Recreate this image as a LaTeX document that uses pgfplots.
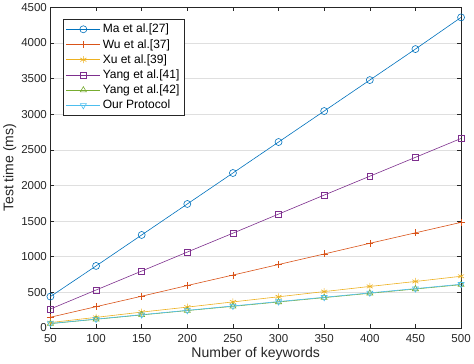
\documentclass[border=0pt]{standalone}
\usepackage{pgfplots}
\pgfplotsset{compat=1.18}
\usepackage{fontspec}
\setmainfont{Liberation Sans}
\definecolor{mblue}{rgb}{0,0.447,0.741}
\definecolor{morange}{rgb}{0.85,0.325,0.098}
\definecolor{myellow}{rgb}{0.929,0.694,0.125}
\definecolor{mpurple}{rgb}{0.494,0.184,0.556}
\definecolor{mgreen}{rgb}{0.466,0.674,0.188}
\definecolor{mcyan}{rgb}{0.301,0.745,0.933}
\definecolor{axgray}{rgb}{0.15,0.15,0.15}
\begin{document}
\begin{tikzpicture}
\begin{axis}[
  scale only axis,
  width=410pt, height=320pt,
  xmin=50, xmax=500, ymin=0, ymax=4500,
  xtick={50,100,...,500},
  ytick={0,500,...,4500},
  tick align=inside,
  major tick length=4pt,
  ymajorgrids,
  grid style={gray!25, line width=0.5pt},
  axis line style={axgray, line width=0.5pt},
  every tick/.style={axgray},
  tick label style={font=\fontsize{11.5}{13}\selectfont, text=axgray},
  xticklabel style={yshift=-3pt},
  label style={font=\fontsize{14}{16}\selectfont, text=axgray},
  xlabel={Number of keywords},
  ylabel={Test time (ms)},
  xlabel style={yshift=2pt},
  ylabel style={yshift=-2pt},
  /pgf/number format/assume math mode=true,
  /pgf/number format/1000 sep={},
  scaled ticks=false,
  legend style={at={(rel axis cs:0.03,0.964)}, anchor=north west,
    font=\fontsize{12}{14}\selectfont, draw=axgray, fill=white,
    row sep=1pt, inner sep=3pt, cells={anchor=west}},
  legend cell align=left,
  legend image code/.code={\draw[mark repeat=2,mark phase=2] plot coordinates {(0cm,0cm)(0.6cm,0cm)(1.2cm,0cm)};},
  every axis plot/.append style={line width=0.6pt, mark size=3.5pt, mark options={solid, fill=none}},
]
\addplot[mblue, mark=o] coordinates {(50,440)(100,870)(150,1305)(200,1740)(250,2175)(300,2610)(350,3045)(400,3480)(450,3915)(500,4360)};
\addlegendentry{Ma et al.[27]}
\addplot[morange, mark=+] coordinates {(50,150)(100,298)(150,445)(200,595)(250,742)(300,890)(350,1038)(400,1188)(450,1335)(500,1482)};
\addlegendentry{Wu et al.[37]}
\addplot[myellow, mark=asterisk] coordinates {(50,75)(100,148)(150,222)(200,292)(250,365)(300,437)(350,510)(400,582)(450,652)(500,725)};
\addlegendentry{Xu et al.[39]}
\addplot[mpurple, mark=square, mark size=2.9pt] coordinates {(50,265)(100,532)(150,798)(200,1065)(250,1330)(300,1598)(350,1865)(400,2130)(450,2395)(500,2660)};
\addlegendentry{Yang et al.[41]}
\addplot[mgreen, mark=triangle] coordinates {(50,60)(100,121)(150,182)(200,243)(250,303)(300,364)(350,425)(400,486)(450,546)(500,607)};
\addlegendentry{Yang et al.[42]}
\addplot[mcyan, mark=triangle, mark options={rotate=180}] coordinates {(50,62)(100,124)(150,186)(200,247)(250,308)(300,370)(350,430)(400,492)(450,552)(500,613)};
\addlegendentry{Our Protocol}
\end{axis}
\end{tikzpicture}
\end{document}
